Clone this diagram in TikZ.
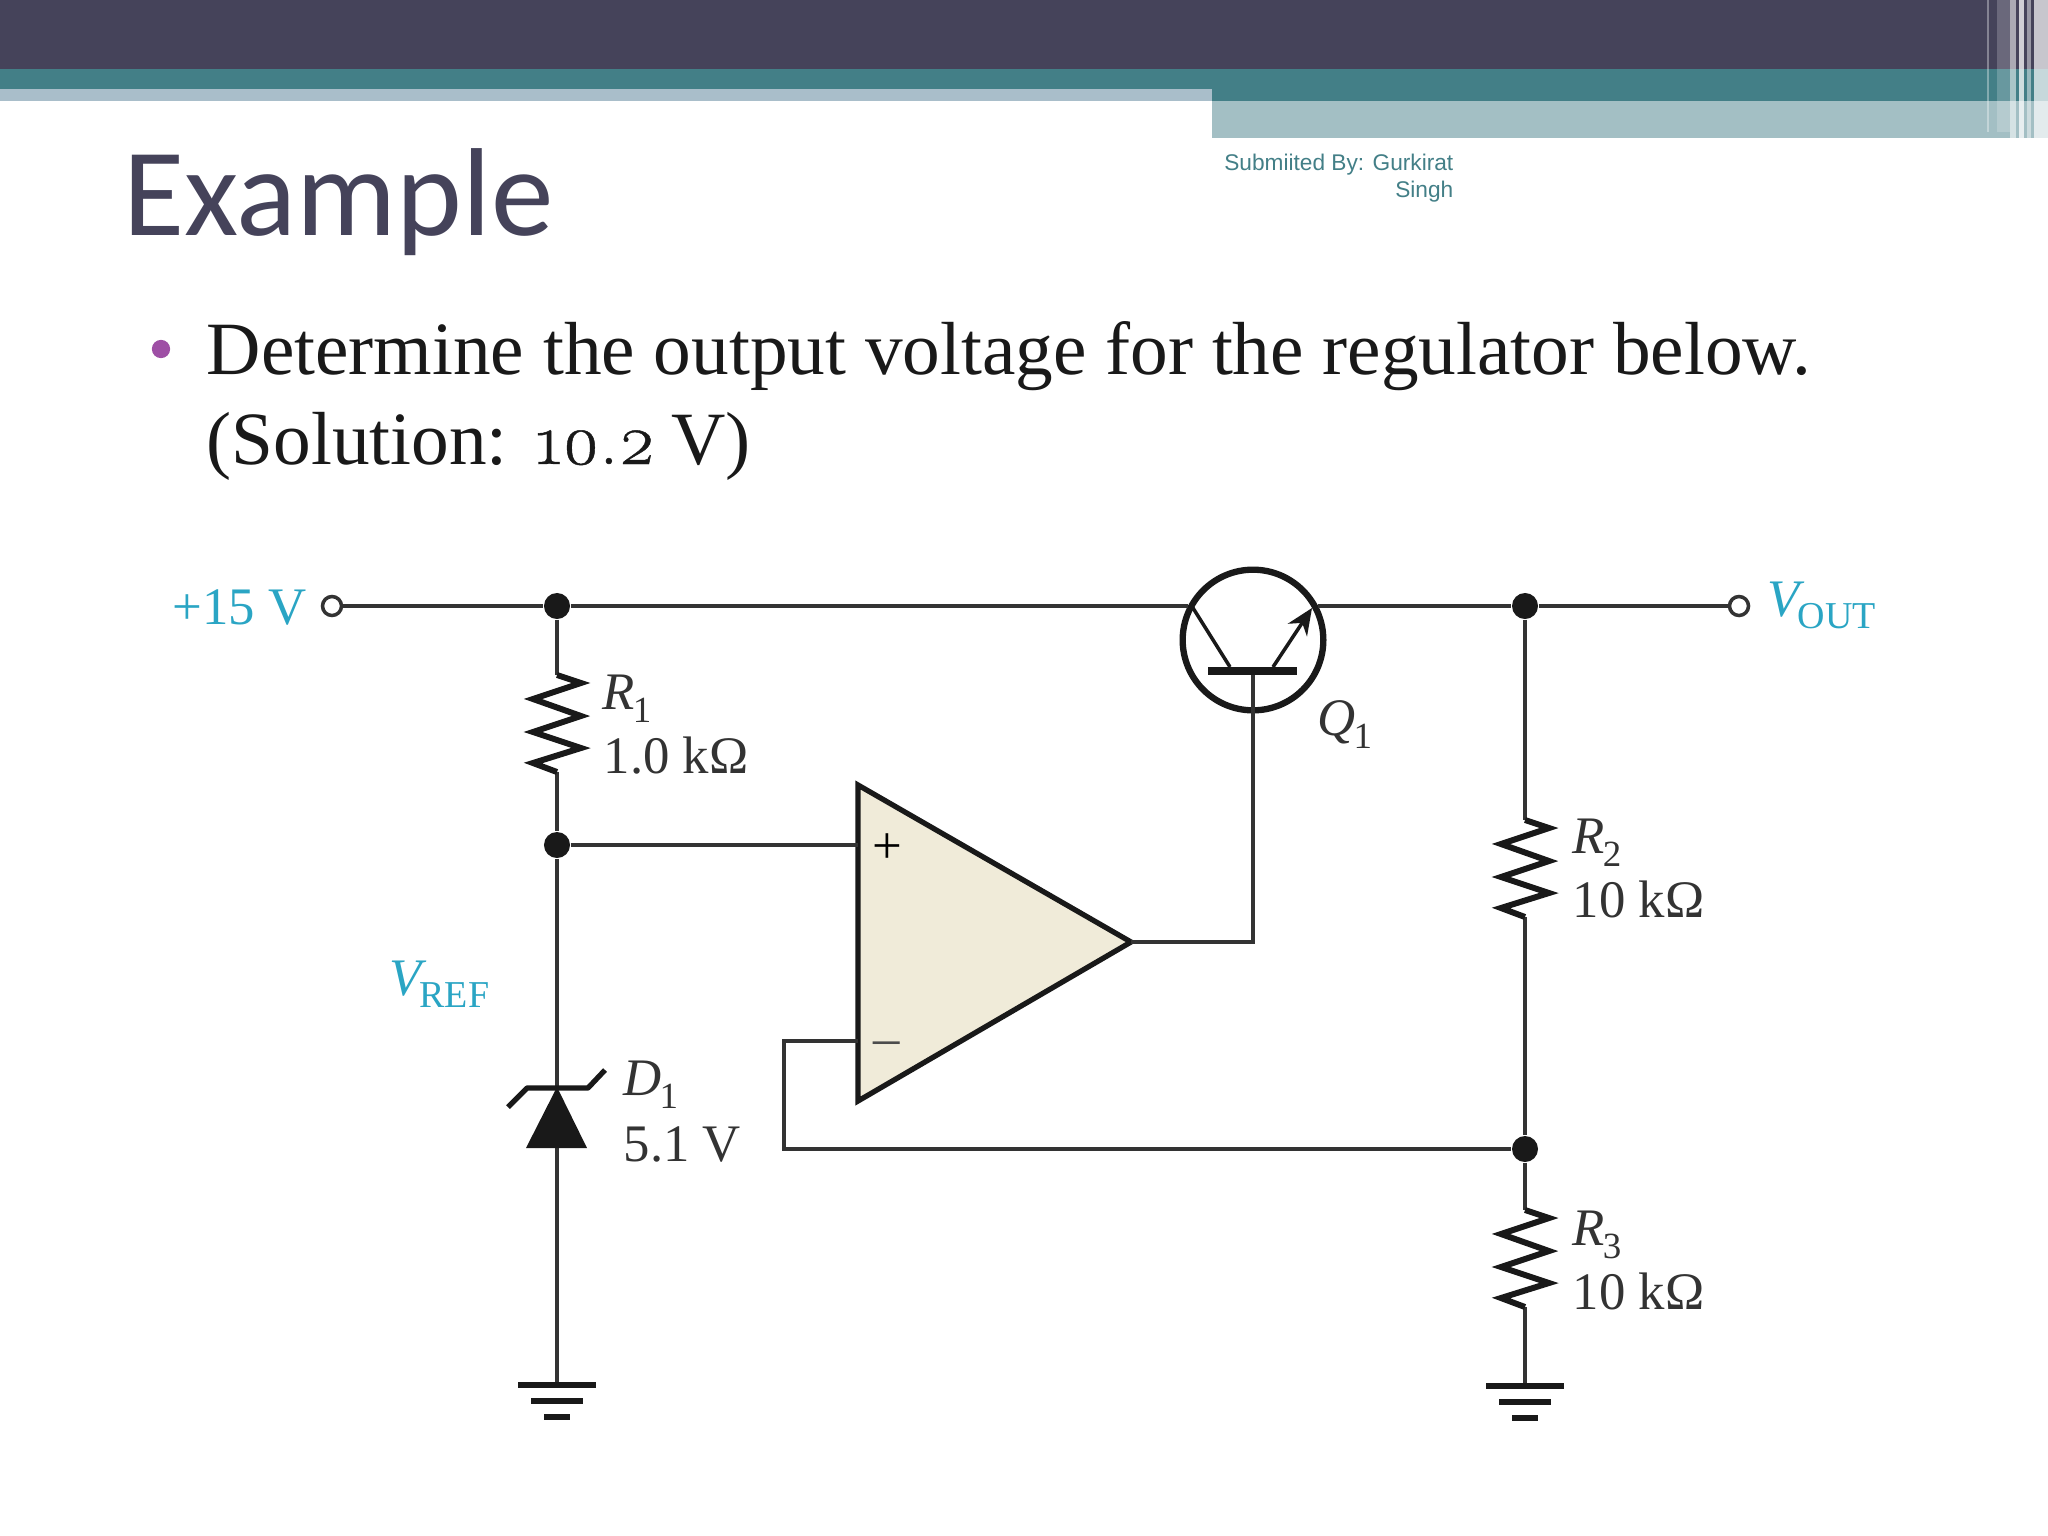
\documentclass[tikz,border=0pt]{standalone}
\usepackage{fontspec}
\setmainfont{Liberation Serif}
\newfontfamily\titlefont{Carlito}
\newfontfamily\notefont{Liberation Sans}
\newfontfamily\oldnum[Numbers=OldStyle,FakeBold=0.6]{Latin Modern Roman}
\usetikzlibrary{arrows.meta}
\definecolor{slatebar}{HTML}{45435A}
\definecolor{tealbar}{HTML}{437F87}
\definecolor{palebar}{HTML}{A3BFC4}
\definecolor{paleleft}{HTML}{A9BECA}
\definecolor{opfill}{HTML}{F0EBD9}
\definecolor{labcyan}{HTML}{2AA5C4}
\definecolor{bulletpurple}{HTML}{9E4FA5}
\newcommand{\subs}[1]{\kern-.04em\raisebox{-.26em}{\fontsize{10.5}{12}\selectfont #1}}
\newcommand{\subv}[1]{\kern-.14em\raisebox{-.24em}{\fontsize{10.8}{12}\selectfont #1}}
\tikzset{wire/.style={line width=1pt,draw=black!80},
         res/.style={line width=1.7pt,draw=black!90,line join=miter},
         gnd/.style={line width=1.6pt,draw=black!90},
         lab/.style={anchor=base west,inner sep=0pt,font=\fontsize{15}{15}\selectfont,text=black!80},
         cyanlab/.style={lab,text=labcyan},
         bodytext/.style={anchor=base west,inner sep=0pt,font=\fontsize{21.4}{22}\selectfont,text=black!90},
         junction/.style={circle,fill=black!90,inner sep=0pt,minimum size=7.4pt},
         terminal/.style={circle,draw=black!80,line width=1pt,fill=white,inner sep=0pt,minimum size=5.4pt}}
\begin{document}
\begin{tikzpicture}[x=0.01cm,y=-0.01cm]
\useasboundingbox (0,0) rectangle (2048,1536);
% slide header
\fill[white] (0,0) rectangle (2048,1536);
\fill[palebar] (1212,101) rectangle (2048,138);
\fill[paleleft] (0,89) rectangle (1212,101);
\fill[tealbar] (0,69) rectangle (1212,89);
\fill[tealbar] (1212,69) rectangle (2048,101);
\fill[slatebar] (0,0) rectangle (2048,69);
\begin{scope}[white]
    \fill[opacity=.35] (1987,0) rectangle (1989,132);
    \fill[opacity=.2] (1997,0) rectangle (2010,132);
    \fill[opacity=.55] (2010,0) rectangle (2016,138);
    \fill[opacity=.75] (2019,0) rectangle (2024,138);
    \fill[opacity=.45] (2027,0) rectangle (2031,138);
    \fill[opacity=.7] (2034,0) rectangle (2048,138);
\end{scope}
% title and text
\node[anchor=base west,inner sep=0pt,font=\titlefont\fontsize{35.6}{36}\selectfont,text=slatebar] (title) at (123,235) {Example};
\node[anchor=base east,inner sep=0pt,font=\notefont\fontsize{6.45}{7}\selectfont,text=tealbar] (note1) at (1454,170) {Submiited By: Gurkirat};
\node[anchor=base east,inner sep=0pt,font=\notefont\fontsize{6.45}{7}\selectfont,text=tealbar] (note2) at (1454,197) {Singh};
\node[circle,fill=bulletpurple,inner sep=0pt,minimum size=5.2pt] (bullet) at (161,349) {};
\node[bodytext] (line1) at (206,374) {Determine the output voltage for the regulator below.};
\node[bodytext] (line2) at (206,464) {(Solution:\kern.12em\ {\oldnum\fontsize{20.6}{22}\selectfont 10.2}\kern-.04em\ V)};
% op amp
\coordinate (opTop) at (858,785);
\coordinate (opBot) at (858,1101);
\coordinate (opOut) at (1131,942);
\coordinate (opPlus) at (858,845);
\coordinate (opMinus) at (858,1041);
\draw[line width=1.5pt,draw=black!90,fill=opfill,line join=miter] (opTop) -- (opOut) -- (opBot) -- cycle;
\node[inner sep=0pt,font=\fontsize{15}{15}\selectfont] (plus) at (887,849) {+};
\node[inner sep=0pt,font=\fontsize{15}{15}\selectfont,text=black!70] (minus) at (887,1049) {--};
% nodes of the circuit
\node[terminal] (in) at (332,606) {};
\node[terminal] (out) at (1739,606) {};
\node[junction] (J1) at (557,606) {};
\node[junction] (J2) at (557,845) {};
\node[junction] (J3) at (1525,606) {};
\node[junction] (J4) at (1525,1149) {};
\node[circle,draw=black!90,line width=1.8pt,inner sep=0pt,minimum size=40pt] (Q1) at (1253,640) {};
\coordinate (Qc) at (1188,606);
\coordinate (Qe) at (1318,606);
\coordinate (Qb) at (1253,671);
\coordinate (corner1) at (1253,942);
\coordinate (corner2) at (784,1041);
\coordinate (corner3) at (784,1149);
\coordinate (R1top) at (557,675);
\coordinate (R1bot) at (557,772);
\coordinate (R2top) at (1525,820);
\coordinate (R2bot) at (1525,917);
\coordinate (R3top) at (1525,1210);
\coordinate (R3bot) at (1525,1307);
\coordinate (D1top) at (557,1088);
\coordinate (D1bot) at (557,1148);
\coordinate (G1) at (557,1385);
\coordinate (G2) at (1525,1386);
% wires
\begin{scope}[every path/.style={wire}]
    \path (in) -- (J1) -- (Qc);
    \path (Qe) -- (J3) -- (out);
    \path (J1) -- (R1top);
    \path (R1bot) -- (J2) -- (D1top);
    \path (D1bot) -- (G1);
    \path (J2) -- (opPlus);
    \path (opOut) -- (corner1) -- (Qb);
    \path (opMinus) -- (corner2) -- (corner3) -- (J4);
    \path (J3) -- (R2top);
    \path (R2bot) -- (J4) -- (R3top);
    \path (R3bot) -- (G2);
\end{scope}
% resistors
\foreach \r in {R1,R2,R3}
    \draw[res] (\r top) -- ++(24,8) -- ++(-48,16) -- ++(48,17) -- ++(-48,16) -- ++(48,16) -- ++(-48,15) -- ++(24,9);
% grounds
\foreach \g in {G1,G2} {
    \draw[gnd] (\g) ++(-39,0) -- ++(78,0);
    \draw[gnd] (\g) ++(-26,16) -- ++(52,0);
    \draw[gnd] (\g) ++(-13,32) -- ++(26,0);
}
% zener
\fill[black!90] (557,1087) -- (587,1148) -- (526,1148) -- cycle;
\draw[line width=1.5pt,draw=black!90,line join=round] (508,1107) -- (527,1088) -- (588,1088) -- (605,1070);
% transistor
\draw[line width=2.3pt,draw=black!90] (1208,671) -- (1297,671);
\draw[line width=1pt,draw=black!90] (1193,608) -- (1230,667);
\draw[line width=1pt,draw=black!90,-{Stealth[length=7.5pt,width=6.5pt]}] (1273,667) -- (1312,608);
% labels
\node[lab] (R1a) at (602,709) {\textit{R}\subs{1}};
\node[lab] (R1b) at (603,773) {1.0 kΩ};
\node[lab] (R2a) at (1572,853) {\textit{R}\subs{2}};
\node[lab] (R2b) at (1572,917) {10 kΩ};
\node[lab] (R3a) at (1572,1245) {\textit{R}\subs{3}};
\node[lab] (R3b) at (1572,1309) {10 kΩ};
\node[lab] (D1a) at (623,1095) {\textit{D}\subs{1}};
\node[lab] (D1b) at (623,1161) {5.1 V};
\node[lab] (Q1a) at (1317,735) {\textit{Q}\subs{1}};
\node[cyanlab] (Vplus) at (172,624) {+15 V};
\node[cyanlab] (Vref) at (389,995) {\textit{V}\subv{REF}};
\node[cyanlab] (Vout) at (1767,616) {\textit{V}\subv{OUT}};
\end{tikzpicture}
\end{document}
